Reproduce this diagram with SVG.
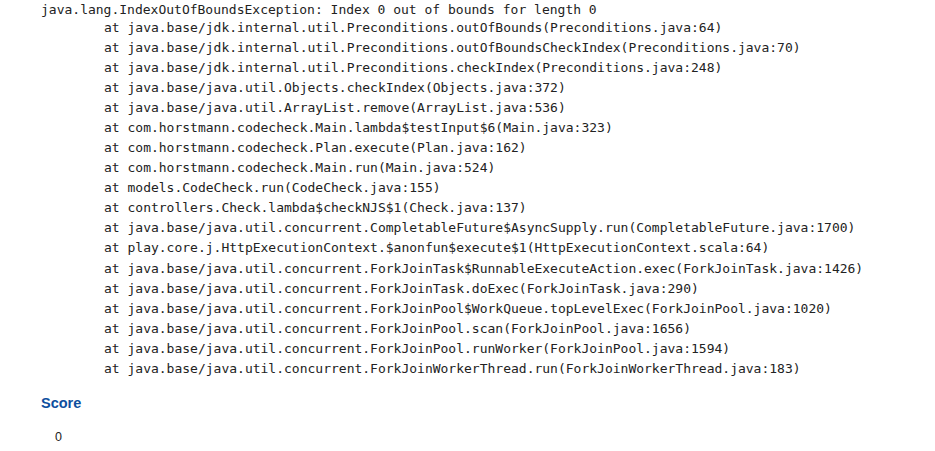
<svg xmlns="http://www.w3.org/2000/svg" width="935" height="451" viewBox="0 0 935 451">
<style>
.m{font-family:"DejaVu Sans Mono",monospace;font-size:13px;fill:#222}
.s{font-family:"Liberation Sans",Arial,sans-serif;font-weight:bold;font-size:14.5px;fill:#0d4f9e}
.z{font-family:"Liberation Sans",Arial,sans-serif;font-size:12.5px;fill:#222}
</style>
<rect width="935" height="451" fill="#fff"/>
<g id="trace" class="m">
<text x="41" y="13.5">java.lang.IndexOutOfBoundsException: Index 0 out of bounds for length 0</text>
<text x="104" y="31.7">at java.base/jdk.internal.util.Preconditions.outOfBounds(Preconditions.java:64)</text>
<text x="104" y="51.8">at java.base/jdk.internal.util.Preconditions.outOfBoundsCheckIndex(Preconditions.java:70)</text>
<text x="104" y="71.8">at java.base/jdk.internal.util.Preconditions.checkIndex(Preconditions.java:248)</text>
<text x="104" y="91.9">at java.base/java.util.Objects.checkIndex(Objects.java:372)</text>
<text x="104" y="111.9">at java.base/java.util.ArrayList.remove(ArrayList.java:536)</text>
<text x="104" y="132.0">at com.horstmann.codecheck.Main.lambda$testInput$6(Main.java:323)</text>
<text x="104" y="152.1">at com.horstmann.codecheck.Plan.execute(Plan.java:162)</text>
<text x="104" y="172.1">at com.horstmann.codecheck.Main.run(Main.java:524)</text>
<text x="104" y="192.2">at models.CodeCheck.run(CodeCheck.java:155)</text>
<text x="104" y="212.3">at controllers.Check.lambda$checkNJS$1(Check.java:137)</text>
<text x="104" y="232.3">at java.base/java.util.concurrent.CompletableFuture$AsyncSupply.run(CompletableFuture.java:1700)</text>
<text x="104" y="252.4">at play.core.j.HttpExecutionContext.$anonfun$execute$1(HttpExecutionContext.scala:64)</text>
<text x="104" y="272.5">at java.base/java.util.concurrent.ForkJoinTask$RunnableExecuteAction.exec(ForkJoinTask.java:1426)</text>
<text x="104" y="292.5">at java.base/java.util.concurrent.ForkJoinTask.doExec(ForkJoinTask.java:290)</text>
<text x="104" y="312.6">at java.base/java.util.concurrent.ForkJoinPool$WorkQueue.topLevelExec(ForkJoinPool.java:1020)</text>
<text x="104" y="332.6">at java.base/java.util.concurrent.ForkJoinPool.scan(ForkJoinPool.java:1656)</text>
<text x="104" y="352.7">at java.base/java.util.concurrent.ForkJoinPool.runWorker(ForkJoinPool.java:1594)</text>
<text x="104" y="372.8">at java.base/java.util.concurrent.ForkJoinWorkerThread.run(ForkJoinWorkerThread.java:183)</text>
</g>
<g id="score">
<text class="s" x="41" y="407.5">Score</text>
<text class="z" x="55" y="440.5">0</text>
</g>
</svg>
